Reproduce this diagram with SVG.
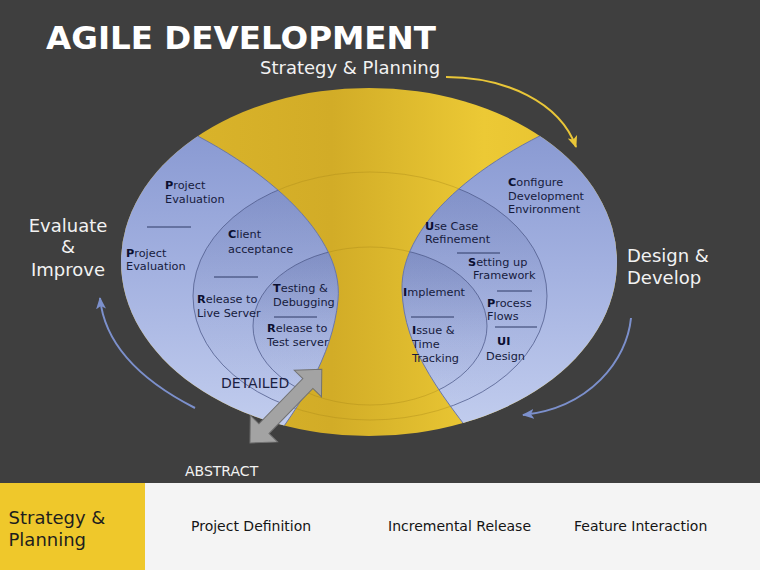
<svg xmlns="http://www.w3.org/2000/svg" width="760" height="570" viewBox="0 0 760 570">
<style>
.t{font-family:"DejaVu Sans","Liberation Sans",sans-serif}
.lb{font-family:"DejaVu Sans","Liberation Sans",sans-serif;font-size:11.3px;fill:#161b3d}
.b{font-weight:bold;fill:#0b0f30}
.w{fill:#f2f2f2;font-family:"DejaVu Sans","Liberation Sans",sans-serif}
.sep{stroke:#2f3a66;stroke-width:1}
.ringY{fill:none;stroke:#a98a18;stroke-opacity:.4;stroke-width:1}
.ringB{stroke:#4c5888;stroke-opacity:.75;stroke-width:1}
.bar{font-family:"DejaVu Sans","Liberation Sans",sans-serif;font-size:14px;fill:#151515}
</style>
<defs>
<clipPath id="cOuter"><ellipse cx="369" cy="262" rx="248" ry="174"/></clipPath>
<clipPath id="cBlue">
<path d="M40,60 L140,110 C250,152 345,230 338,300 C333,355 300,410 250,470 L40,470 Z"/>
<path d="M720,60 L600,110 C490,150 400,220 402,290 C404,350 440,395 500,470 L720,470 Z"/>
</clipPath>
<linearGradient id="gY" gradientUnits="userSpaceOnUse" x1="180" y1="0" x2="560" y2="0">
<stop offset="0" stop-color="#dab42a"/>
<stop offset="0.4" stop-color="#d2ac27"/>
<stop offset="0.55" stop-color="#dbb72c"/>
<stop offset="0.8" stop-color="#ecc935"/>
<stop offset="1" stop-color="#e8c431"/>
</linearGradient>
<linearGradient id="gB" gradientUnits="userSpaceOnUse" x1="0" y1="100" x2="0" y2="440">
<stop offset="0" stop-color="#8394cf"/>
<stop offset="0.5" stop-color="#a3b1e0"/>
<stop offset="1" stop-color="#c4cfef"/>
</linearGradient>
<linearGradient id="gShade" x1="0" y1="0" x2="0" y2="1">
<stop offset="0" stop-color="#3c4c8c" stop-opacity="0.22"/>
<stop offset="0.6" stop-color="#3c4c8c" stop-opacity="0.05"/>
<stop offset="1" stop-color="#3c4c8c" stop-opacity="0"/>
</linearGradient>
<marker id="ay" viewBox="0 0 12 10" refX="11" refY="5" markerWidth="12" markerHeight="10" markerUnits="userSpaceOnUse" orient="auto">
<path d="M0,0 L12,5 L0,10 L3,5 Z" fill="#e9c638"/>
</marker>
<marker id="ab" viewBox="0 0 12 10" refX="11" refY="5" markerWidth="12" markerHeight="10" markerUnits="userSpaceOnUse" orient="auto">
<path d="M0,0 L12,5 L0,10 L3,5 Z" fill="#7c90cc"/>
</marker>
</defs>

<rect x="0" y="0" width="760" height="483" fill="#3f3f3f"/>

<g id="title">
<text class="t" x="46" y="49" font-size="32" font-weight="bold" fill="#ffffff" textLength="390" lengthAdjust="spacingAndGlyphs">AGILE DEVELOPMENT</text>
</g>

<g id="funnel">
<ellipse cx="369" cy="262" rx="248" ry="174" fill="url(#gY)"/>
<g clip-path="url(#cOuter)">
<ellipse class="ringY" cx="370" cy="296" rx="177" ry="124"/>
<ellipse class="ringY" cx="370" cy="326" rx="117" ry="79"/>
<g clip-path="url(#cBlue)">
<rect x="100" y="80" width="540" height="370" fill="url(#gB)"/>
<ellipse cx="370" cy="296" rx="177" ry="124" fill="url(#gShade)" class="ringB"/>
<ellipse cx="370" cy="326" rx="117" ry="79" fill="url(#gShade)" class="ringB"/>
</g>
<path d="M140,110 C250,152 345,230 338,300 C333,355 300,410 250,470" fill="none" stroke="#6a77a8" stroke-width="1"/>
<path d="M600,110 C490,150 400,220 402,290 C404,350 440,395 500,470" fill="none" stroke="#6a77a8" stroke-width="1"/>
</g>
</g>

<g id="node-left-outer">
<text class="lb" x="165" y="189"><tspan class="b">P</tspan>roject</text>
<text class="lb" x="165" y="203">Evaluation</text>
<line class="sep" x1="147" y1="227" x2="191" y2="227"/>
<text class="lb" x="126" y="257"><tspan class="b">P</tspan>roject</text>
<text class="lb" x="126" y="270">Evaluation</text>
</g>
<g id="node-left-mid">
<text class="lb" x="228" y="238"><tspan class="b">C</tspan>lient</text>
<text class="lb" x="228" y="253">acceptance</text>
<line class="sep" x1="214" y1="277" x2="258" y2="277"/>
<text class="lb" x="197" y="303"><tspan class="b">R</tspan>elease to</text>
<text class="lb" x="197" y="317">Live Server</text>
</g>
<g id="node-left-inner">
<text class="lb" x="273" y="292"><tspan class="b">T</tspan>esting &amp;</text>
<text class="lb" x="273" y="306">Debugging</text>
<line class="sep" x1="274" y1="317" x2="317" y2="317"/>
<text class="lb" x="267" y="332"><tspan class="b">R</tspan>elease to</text>
<text class="lb" x="267" y="346">Test server</text>
</g>

<g id="node-right-outer">
<text class="lb" x="508" y="186"><tspan class="b">C</tspan>onfigure</text>
<text class="lb" x="508" y="200">Development</text>
<text class="lb" x="508" y="213">Environment</text>
</g>
<g id="node-right-mid">
<text class="lb" x="425" y="230"><tspan class="b">U</tspan>se Case</text>
<text class="lb" x="425" y="243">Refinement</text>
<line class="sep" x1="457" y1="253" x2="500" y2="253"/>
<text class="lb" x="468" y="266"><tspan class="b">S</tspan>etting up</text>
<text class="lb" x="473" y="279">Framework</text>
<line class="sep" x1="497" y1="291" x2="532" y2="291"/>
<text class="lb" x="487" y="307"><tspan class="b">P</tspan>rocess</text>
<text class="lb" x="487" y="320">Flows</text>
<line class="sep" x1="495" y1="327" x2="537" y2="327"/>
<text class="lb" x="497" y="345"><tspan class="b">UI</tspan></text>
<text class="lb" x="486" y="360">Design</text>
</g>
<g id="node-right-inner">
<text class="lb" x="403" y="296"><tspan class="b">I</tspan>mplement</text>
<line class="sep" x1="411" y1="317" x2="454" y2="317"/>
<text class="lb" x="412" y="334"><tspan class="b">I</tspan>ssue &amp;</text>
<text class="lb" x="412" y="348">Time</text>
<text class="lb" x="412" y="362">Tracking</text>
</g>

<g id="stage-labels">
<text class="w" x="260" y="74" font-size="18">Strategy &amp; Planning</text>
<text class="w" x="68" y="232" font-size="18" text-anchor="middle">Evaluate</text>
<text class="w" x="68" y="253" font-size="18" text-anchor="middle">&amp;</text>
<text class="w" x="68" y="276" font-size="18" text-anchor="middle">Improve</text>
<text class="w" x="627" y="262" font-size="18">Design &amp;</text>
<text class="w" x="627" y="284" font-size="18">Develop</text>
<text class="t" x="221" y="388" font-size="14" fill="#1b2142">DETAILED</text>
<text class="w" x="185" y="476" font-size="14">ABSTRACT</text>
</g>

<g id="connectors">
<path d="M446,77 C505,77 560,102 576,147" fill="none" stroke="#e9c638" stroke-width="2" marker-end="url(#ay)"/>
<path d="M631,318 C627,360 590,408 523,415" fill="none" stroke="#7c90cc" stroke-width="2" marker-end="url(#ab)"/>
<path d="M195,408 C150,385 105,350 100,298" fill="none" stroke="#7c90cc" stroke-width="2" marker-end="url(#ab)"/>
<g transform="translate(250,443) rotate(-45.8)">
<polygon points="0,0 20,-19 20,-7 83,-7 83,-19 103,0 83,19 83,7 20,7 20,19" fill="#a3a3a3" stroke="#727272" stroke-width="1"/>
</g>
</g>

<g id="bottom-bar">
<rect x="0" y="483" width="760" height="87" fill="#f4f4f4"/>
<rect x="0" y="483" width="145" height="87" fill="#efc82b"/>
<text class="t" x="8.5" y="524" font-size="18" fill="#1e1e1e">Strategy &amp;</text>
<text class="t" x="8.5" y="546" font-size="18" fill="#1e1e1e">Planning</text>
<text class="bar" x="191" y="531">Project Definition</text>
<text class="bar" x="388" y="531">Incremental Release</text>
<text class="bar" x="574" y="531">Feature Interaction</text>
</g>
</svg>
